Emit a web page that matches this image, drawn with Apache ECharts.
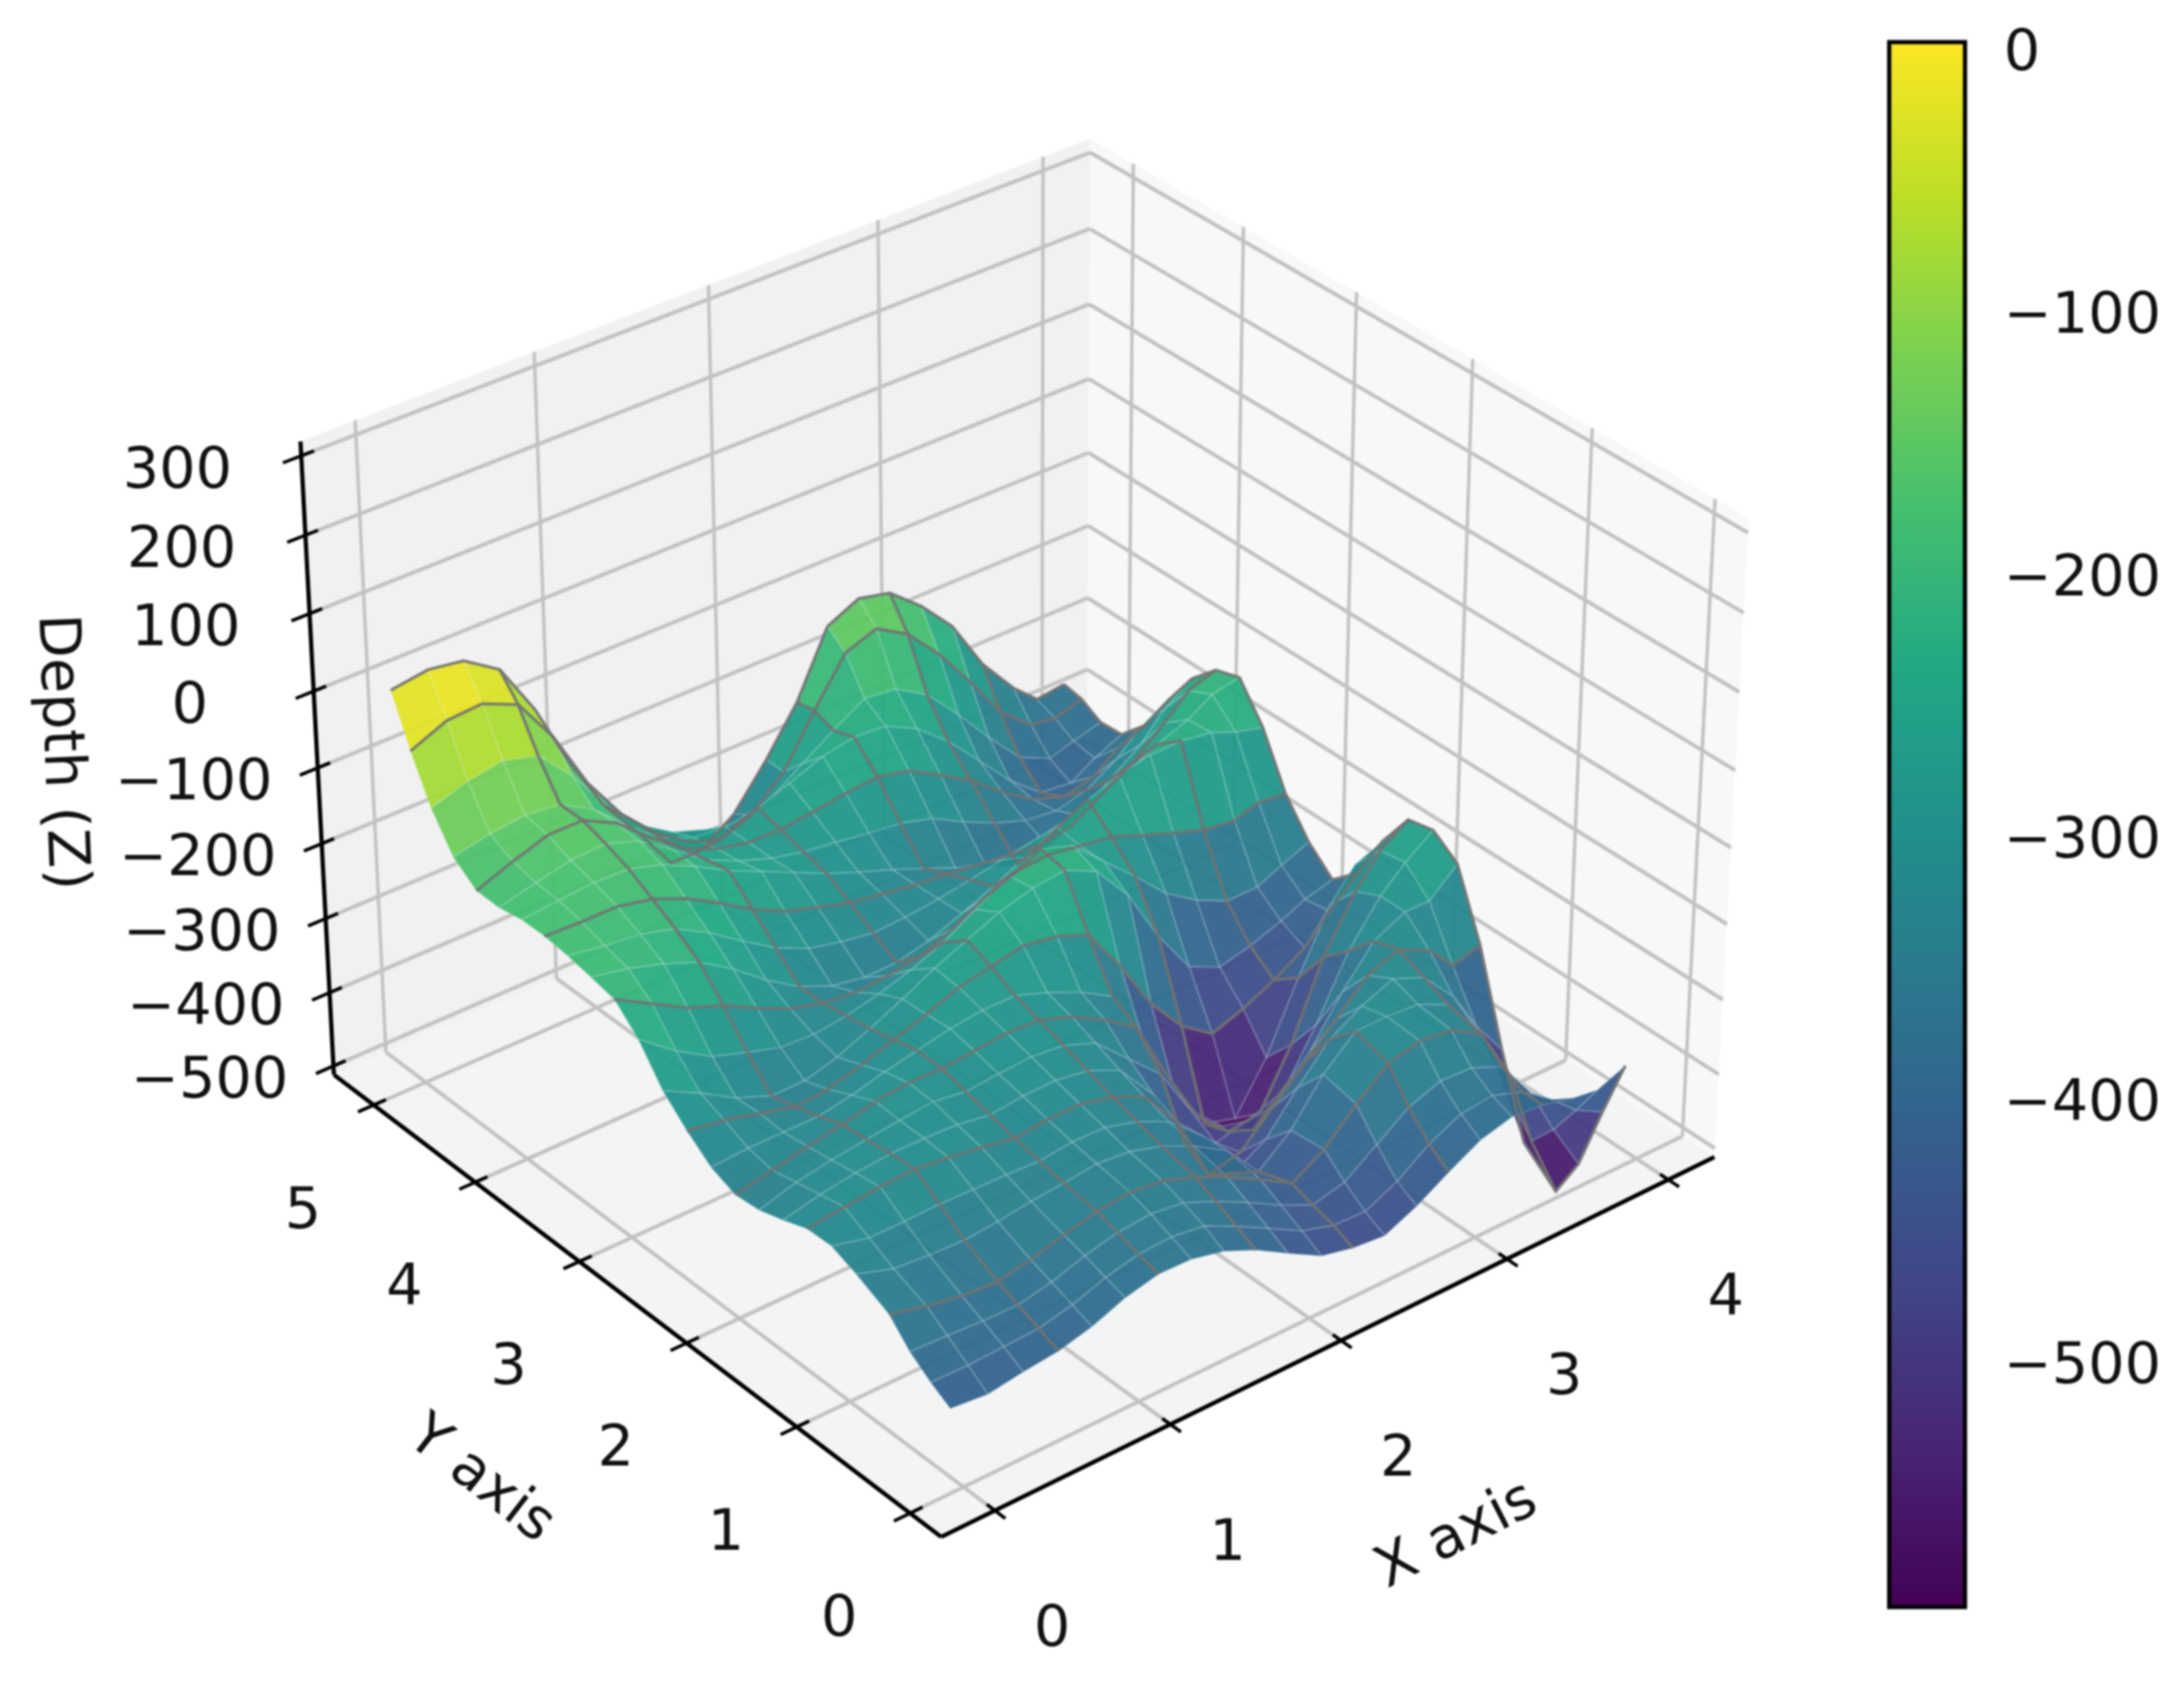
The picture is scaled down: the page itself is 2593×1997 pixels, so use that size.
<!DOCTYPE html>
<html><head><meta charset="utf-8">
<style>html,body{margin:0;padding:0;background:#fff}#c{width:2593px;height:1997px;filter:blur(1.2px)}</style>
<script src="https://cdn.jsdelivr.net/npm/echarts@6/dist/echarts.min.js"></script>
</head><body><div id="c"></div>
<script>
const xGrid=[-.04,.17,.37,.57,.76,.95,1.14,1.33,1.52,1.71,1.9,2.1,2.29,2.48,2.67,2.86,3.05,3.24,3.43,3.62,3.77,3.94];
const yGrid=[.05,.22,.4,.58,.867,1.083,1.3,1.517,1.733,1.95,2.167,2.383,2.6,2.817,3.033,3.25,3.467,3.683,3.9,4.117,4.333,4.55,4.75,4.93,5.1];
const depthRows=[
[-410,-415,-408,-403,-392,-375,-365,-366,-376,-395,-420,-445,-455,-459,-440,-415,-392,-381,-385,-395,-400,-385],
[-395,-396,-394,-392,-382,-367,-357,-355,-361,-382,-405,-430,-443,-445,-425,-395,-375,-370,-385,-415,-445,-465],
[-375,-377,-380,-381,-372,-358,-348,-344,-350,-368,-390,-415,-435,-425,-395,-365,-350,-352,-370,-425,-490,-555],
[-346,-358,-367,-370,-362,-350,-340,-335,-340,-355,-375,-400,-425,-400,-360,-325,-315,-320,-345,-420,-525,-612],
[-325,-341,-345,-347,-343,-337,-333,-328,-332,-345,-365,-392,-440,-405,-350,-312,-312,-315,-335,-390,-465,-575],
[-312,-324,-324,-323,-324,-325,-327,-322,-323,-335,-355,-395,-465,-440,-390,-345,-320,-303,-320,-365,-420,-470],
[-313,-307,-302,-300,-305,-312,-320,-315,-315,-325,-345,-400,-490,-480,-440,-400,-360,-320,-305,-325,-360,-350],
[-325,-314,-307,-303,-303,-305,-312,-307,-306,-313,-332,-385,-470,-490,-480,-465,-425,-365,-315,-295,-295,-262],
[-335,-321,-313,-307,-302,-297,-304,-300,-297,-302,-318,-360,-400,-470,-510,-535,-500,-430,-350,-295,-265,-238],
[-338,-328,-318,-310,-300,-295,-296,-292,-288,-290,-305,-330,-360,-445,-520,-560,-555,-480,-380,-310,-270,-245],
[-325,-322,-322,-322,-314,-303,-294,-285,-280,-280,-295,-315,-340,-420,-505,-572,-585,-520,-430,-350,-310,-295],
[-300,-308,-320,-332,-329,-316,-302,-288,-272,-263,-255,-262,-280,-340,-410,-460,-490,-475,-455,-430,-395,-360],
[-270,-295,-322,-340,-340,-328,-310,-290,-268,-250,-232,-220,-215,-235,-285,-360,-420,-440,-430,-415,-400,-390],
[-225,-262,-290,-305,-318,-320,-315,-305,-292,-275,-250,-225,-208,-222,-262,-300,-342,-370,-390,-390,-375,-360],
[-195,-222,-248,-265,-288,-308,-320,-325,-322,-315,-298,-275,-258,-255,-262,-268,-285,-300,-315,-320,-310,-315],
[-188,-198,-212,-230,-258,-292,-320,-338,-346,-345,-335,-318,-300,-280,-258,-240,-225,-216,-215,-222,-235,-245],
[-182,-190,-195,-208,-232,-262,-290,-310,-320,-327,-325,-320,-313,-305,-298,-290,-278,-262,-240,-225,-205,-198],
[-178,-180,-180,-190,-208,-233,-260,-282,-295,-308,-315,-322,-327,-332,-338,-342,-335,-310,-285,-250,-220,-208],
[-178,-174,-170,-172,-185,-206,-230,-250,-270,-290,-307,-323,-340,-358,-376,-390,-385,-360,-330,-300,-265,-240],
[-184,-172,-162,-160,-175,-205,-237,-257,-272,-282,-288,-295,-300,-312,-335,-355,-370,-375,-365,-340,-310,-290],
[-183,-165,-150,-150,-172,-210,-243,-262,-272,-273,-268,-262,-258,-268,-292,-318,-352,-380,-395,-385,-360,-345],
[-160,-150,-145,-150,-175,-215,-250,-268,-272,-265,-250,-233,-225,-228,-250,-285,-330,-375,-410,-415,-395,-378],
[-115,-100,-92,-105,-150,-207,-252,-280,-295,-305,-292,-262,-235,-210,-215,-240,-285,-335,-380,-400,-390,-380],
[-58,-38,-35,-55,-115,-195,-255,-298,-330,-345,-330,-290,-225,-165,-150,-175,-220,-275,-335,-370,-375,-365],
[5,12,5,-25,-95,-185,-260,-315,-375,-375,-345,-290,-230,-145,-125,-135,-170,-215,-285,-335,-365,-360]
];
const wireCols=[3,6,9,12,15,18,21];
const wireRows=[3,6,9,11,14,17,20,23,24];
const xTicks=[0,1,2,3,4];
const yTicks=[0,1,2,3,4,5];
const zTicks=[-500,-400,-300,-200,-100,0,100,200,300];
const barTicks=[-500,-400,-300,-200,-100,0];
const viridis=['#440154','#482475','#414487','#355f8d','#2a788e','#21918c','#22a884','#44bf70','#7ad151','#bddf26','#fde725'];
const xLim=[-.3,4.29],yLim=[-.27,5.4],zLim=[-512,318],barLim=[-591,5];

const W=2593,H=1997,S=10023,OX=1210,OY=956,FONT='DejaVu Sans';
const el=32.5*Math.PI/180,az=231*Math.PI/180,DIST=10,BOX=[1.1905,1.1905,.8929];
const n=[Math.cos(el)*Math.cos(az),Math.cos(el)*Math.sin(az),Math.sin(el)];
const nh=Math.hypot(n[0],n[1]);
const u=[-n[1]/nh,n[0]/nh,0];
const v=[n[1]*u[2]-n[2]*u[1],n[2]*u[0]-n[0]*u[2],n[0]*u[1]-n[1]*u[0]];
const dot=(a,b)=>a[0]*b[0]+a[1]*b[1]+a[2]*b[2];
function project(x,y,z){
  const p=[((x-xLim[0])/(xLim[1]-xLim[0])-.5)*BOX[0],((y-yLim[0])/(yLim[1]-yLim[0])-.5)*BOX[1],((z-zLim[0])/(zLim[1]-zLim[0])-.5)*BOX[2]];
  const d=DIST-dot(n,p);
  return [dot(u,p)/d,dot(v,p)/d,d];
}
function rgb(h){return [1,3,5].map(k=>parseInt(h.substr(k,2),16));}
function colorOf(z,alpha){
  let t=(z-barLim[0])/(barLim[1]-barLim[0])*10;t=Math.max(0,Math.min(9.999,t));
  const k=Math.floor(t),f=t-k,a=rgb(viridis[k]),b=rgb(viridis[k+1]);
  return 'rgba('+a.map((c,m)=>Math.round(c+(b[m]-c)*f)).join(',')+','+alpha+')';
}
const pt=(api,p)=>api.coord([p[0],p[1]]);

const xl=xLim[0],xh=xLim[1],yl=yLim[0],yh=yLim[1],zl=zLim[0],zh=zLim[1];
const panes=[
 {c:'#f1f1f1',p:[[xl,yh,zl],[xh,yh,zl],[xh,yh,zh],[xl,yh,zh]]},
 {c:'#f8f8f8',p:[[xh,yl,zl],[xh,yh,zl],[xh,yh,zh],[xh,yl,zh]]},
 {c:'#f4f4f4',p:[[xl,yl,zl],[xh,yl,zl],[xh,yh,zl],[xl,yh,zl]]}
];
const segs=[];
xTicks.forEach(t=>{segs.push({k:'g',a:[t,yl,zl],b:[t,yh,zl]},{k:'v',a:[t,yh,zl],b:[t,yh,zh]});});
yTicks.forEach(t=>{segs.push({k:'g',a:[xl,t,zl],b:[xh,t,zl]},{k:'v',a:[xh,t,zl],b:[xh,t,zh]});});
zTicks.forEach(t=>{segs.push({k:'g',a:[xl,yh,t],b:[xh,yh,t]},{k:'g',a:[xh,yl,t],b:[xh,yh,t]});});
segs.push({k:'a',a:[xl,yl,zl],b:[xh,yl,zl]},{k:'a',a:[xl,yl,zl],b:[xl,yh,zl]},{k:'a',a:[xl,yh,zl],b:[xl,yh,zh]});
xTicks.forEach(t=>segs.push({k:'t',a:[t,yl-.09,zl],b:[t,yl+.07,zl]}));
yTicks.forEach(t=>segs.push({k:'t',a:[xl-.09,t,zl],b:[xl+.07,t,zl]}));
zTicks.forEach(t=>segs.push({k:'t',a:[xl-.1,yh,t],b:[xl+.07,yh,t]}));
const segStyle={g:{stroke:'#c2c2c2',lineWidth:4.5},v:{stroke:'#c2c2c2',lineWidth:4},a:{stroke:'#000',lineWidth:5},t:{stroke:'#000',lineWidth:4}};

const facets=[];
for(let j=0;j<yGrid.length-1;j++)for(let i=0;i<xGrid.length-1;i++){
  const c=[[i,j],[i+1,j],[i+1,j+1],[i,j+1]];
  const P=c.map(q=>project(xGrid[q[0]],yGrid[q[1]],depthRows[q[1]][q[0]]));
  const depth=P.reduce((s,p)=>s+p[2],0)/4;
  const zm=c.reduce((s,q)=>s+depthRows[q[1]][q[0]],0)/4;
  facets.push({P,depth,zm});
}
facets.sort((a,b)=>b.depth-a.depth);

const wires=[];
wireCols.forEach(i=>wires.push(yGrid.map((y,j)=>project(xGrid[i],y,depthRows[j][i]))));
wireRows.forEach(j=>wires.push(xGrid.map((x,i)=>project(x,yGrid[j],depthRows[j][i]))));

const minus=s=>String(s).replace('-','\u2212');
const labels=[];
xTicks.forEach(t=>labels.push({p:project(t,yl,zl),dx:68,dy:143,t:String(t)}));
yTicks.forEach(t=>labels.push({p:project(xl,t,zl),dx:-84,dy:128,t:String(t)}));
zTicks.forEach(t=>labels.push({p:project(xl,yh,t),dx:-147,dy:20,t:minus(t)}));

const idx=a=>a.map((_,k)=>[k,0]);
const chart=echarts.init(document.getElementById('c'),null,{renderer:'canvas',width:W,height:H});
chart.setOption({
 animation:false,backgroundColor:'#fff',
 grid:[{left:0,top:0,width:W,height:H,show:false},{left:2243,top:50,width:90,height:1858,show:false}],
 xAxis:[{type:'value',show:false,min:-OX/S,max:(W-OX)/S,gridIndex:0},{type:'value',show:false,min:0,max:1,gridIndex:1}],
 yAxis:[{type:'value',show:false,min:-(H-OY)/S,max:OY/S,gridIndex:0},
  {type:'value',gridIndex:1,position:'right',min:barLim[0],max:barLim[1],splitLine:{show:false},axisLine:{show:false},
   axisTick:{show:true,length:25,customValues:barTicks,lineStyle:{color:'#000',width:4}},
   axisLabel:{show:true,customValues:barTicks,margin:46,fontFamily:FONT,fontSize:68,color:'#111',formatter:minus}}],
 graphic:[
  {type:'text',x:71,y:893,rotation:-1.53,z:10,style:{text:'Depth (Z)',font:'68px "'+FONT+'"',fill:'#111',align:'center',verticalAlign:'middle'}},
  {type:'text',x:570,y:1758,rotation:-.66,z:10,style:{text:'Y axis',font:'68px "'+FONT+'"',fill:'#111',align:'center',verticalAlign:'middle'}},
  {type:'text',x:1730,y:1824,rotation:.47,z:10,style:{text:'X axis',font:'68px "'+FONT+'"',fill:'#111',align:'center',verticalAlign:'middle'}}
 ],
 series:[
  {type:'custom',name:'panes',silent:true,z:1,progressive:0,data:idx(panes),renderItem:(p,api)=>{const q=panes[p.dataIndex];
    return {type:'polygon',shape:{points:q.p.map(c=>pt(api,project(c[0],c[1],c[2])))},style:{fill:q.c}};}},
  {type:'custom',name:'frame',silent:true,z:2,progressive:0,data:idx(segs),renderItem:(p,api)=>{const s=segs[p.dataIndex];
    const a=pt(api,project(...s.a)),b=pt(api,project(...s.b));
    return {type:'line',shape:{x1:a[0],y1:a[1],x2:b[0],y2:b[1]},style:segStyle[s.k]};}},
  {type:'custom',name:'Depth surface',silent:true,z:3,progressive:0,data:idx(facets),renderItem:(p,api)=>{const f=facets[p.dataIndex];
    return {type:'polygon',shape:{points:f.P.map(q=>pt(api,q))},style:{fill:colorOf(f.zm,.95),stroke:'rgba(235,245,245,.2)',lineWidth:1.6}};}},
  {type:'custom',name:'wire',silent:true,z:4,progressive:0,data:idx(wires),renderItem:(p,api)=>{
    return {type:'polyline',shape:{points:wires[p.dataIndex].map(q=>pt(api,q))},style:{fill:'none',stroke:'rgba(112,112,112,.9)',lineWidth:3.5}};}},
  {type:'custom',name:'tick labels',silent:true,z:5,progressive:0,data:idx(labels),renderItem:(p,api)=>{const l=labels[p.dataIndex],c=pt(api,l.p);
    return {type:'text',x:c[0]+l.dx,y:c[1]+l.dy,style:{text:l.t,font:'68px "'+FONT+'"',fill:'#111',align:'center',verticalAlign:'middle'}};}},
  {type:'custom',name:'colorbar',silent:true,z:3,xAxisIndex:1,yAxisIndex:1,data:[[0,0]],renderItem:(p,api)=>{
    const a=api.coord([0,barLim[1]]),b=api.coord([1,barLim[0]]);
    return {type:'rect',shape:{x:a[0],y:a[1],width:b[0]-a[0],height:b[1]-a[1]},style:{stroke:'#000',lineWidth:5,
      fill:{type:'linear',x:0,y:1,x2:0,y2:0,colorStops:viridis.map((c,k)=>({offset:k/10,color:c}))}}};}}
 ]
});
</script></body></html>
